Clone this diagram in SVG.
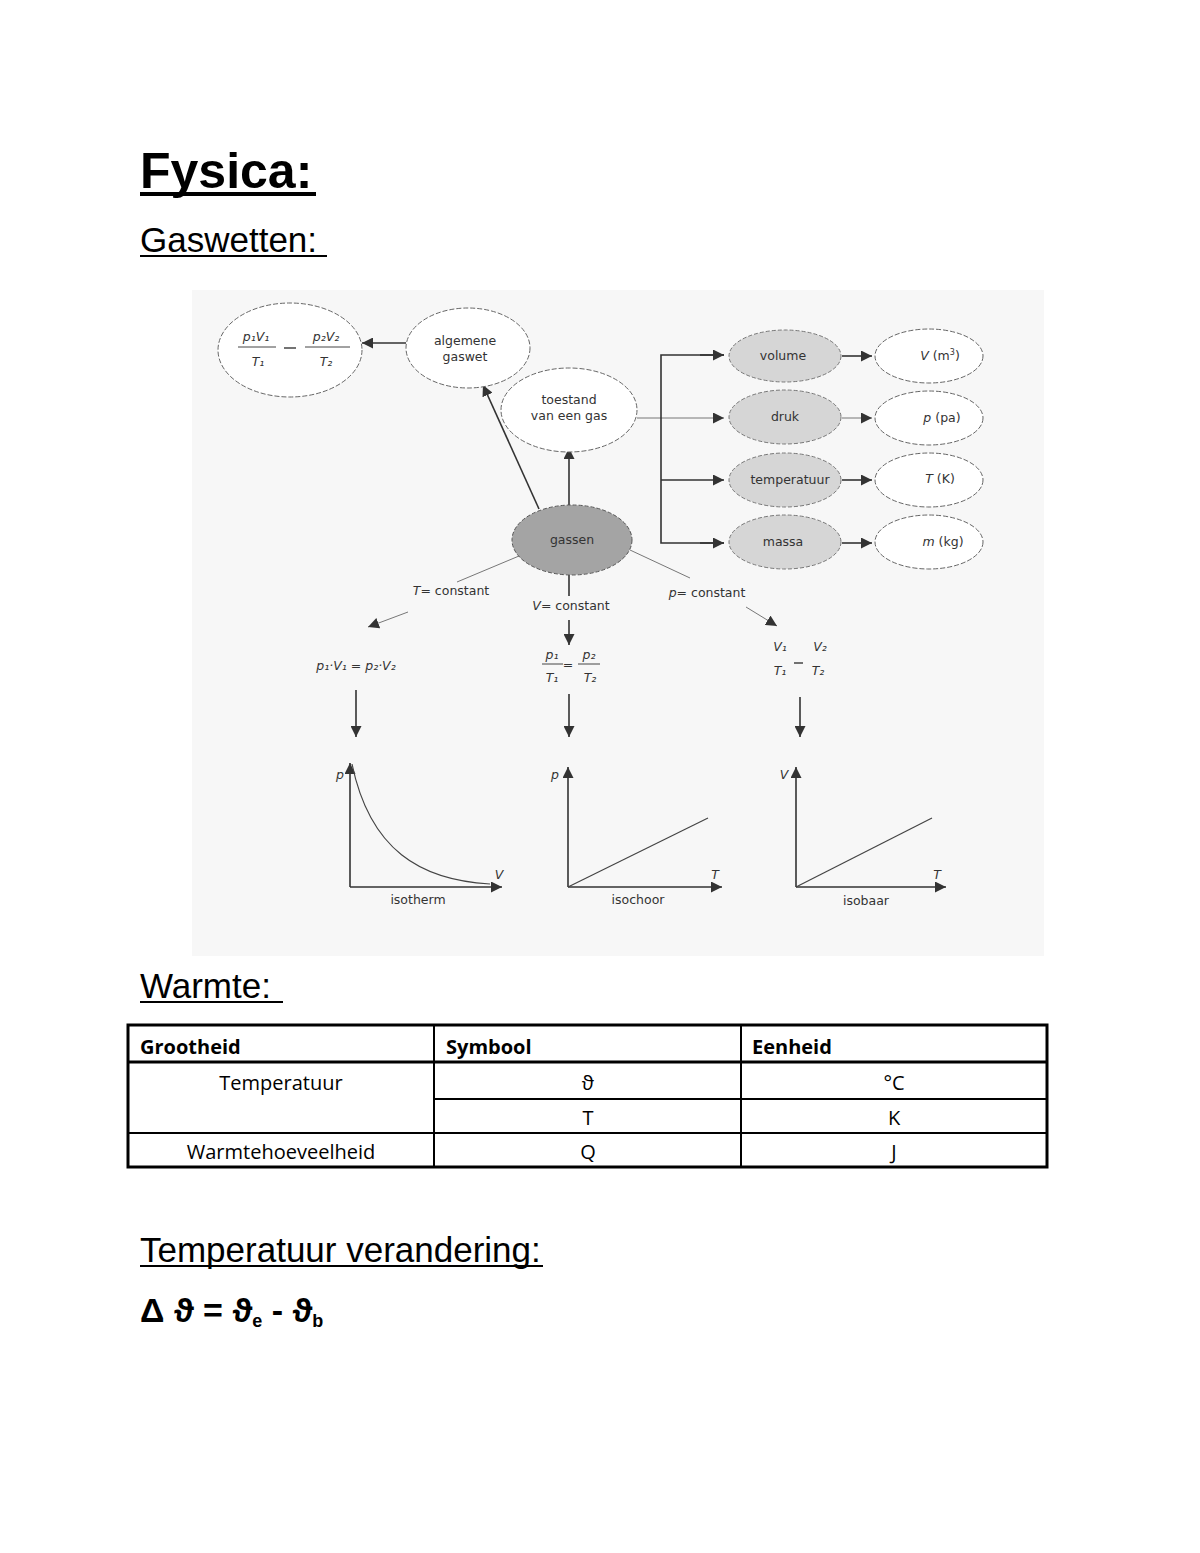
<svg xmlns="http://www.w3.org/2000/svg" width="1200" height="1553" viewBox="0 0 1200 1553">
<style>
.h{font-family:"Liberation Sans",Arial,sans-serif;fill:#000}
.d{font-family:"DejaVu Sans",Verdana,sans-serif;font-size:12.5px;fill:#333}
.di{font-family:"DejaVu Sans",Verdana,sans-serif;font-size:12.5px;fill:#333;font-style:italic}
.ew{fill:#fff;stroke:#666;stroke-width:1;stroke-dasharray:5 2}
.eg{fill:#d6d6d6;stroke:#777;stroke-width:1;stroke-dasharray:4 2}
.ed{fill:#a4a4a4;stroke:#555;stroke-width:1;stroke-dasharray:4 2}
.c{stroke:#333;stroke-width:1.6;fill:none}
.cl{stroke:#777;stroke-width:1;fill:none}
.t{font-family:"Open Sans","Noto Sans",sans-serif;font-size:20px;fill:#000}
.tb{font-family:"Open Sans","Noto Sans",sans-serif;font-size:20px;font-weight:bold;fill:#000}
</style>
<defs>
<marker id="a" viewBox="0 0 10 10" refX="10" refY="5" markerWidth="11" markerHeight="11" markerUnits="userSpaceOnUse" orient="auto"><path d="M0,0L10,5L0,10z" fill="#333"/></marker>
<pattern id="pg" width="4" height="4" patternUnits="userSpaceOnUse"><rect width="4" height="4" fill="#dadada"/><rect width="2" height="2" fill="#c8c8c8"/></pattern>
<pattern id="pd" width="4" height="4" patternUnits="userSpaceOnUse"><rect width="4" height="4" fill="#aaaaaa"/><rect width="2" height="2" fill="#8e8e8e"/></pattern>
</defs>
<rect width="1200" height="1553" fill="#fff"/>
<g id="headings">
<text class="h" x="140" y="188" font-size="50" font-weight="bold">Fysica:</text>
<line x1="140" y1="194" x2="316" y2="194" stroke="#000" stroke-width="4"/>
<text class="h" x="140" y="252" font-size="35">Gaswetten:</text>
<line x1="140" y1="256" x2="327" y2="256" stroke="#000" stroke-width="2"/>
<text class="h" x="140" y="998" font-size="35">Warmte:</text>
<line x1="140" y1="1002" x2="283" y2="1002" stroke="#000" stroke-width="2"/>
<text class="h" x="140" y="1262" font-size="35">Temperatuur verandering:</text>
<line x1="140" y1="1266" x2="543" y2="1266" stroke="#000" stroke-width="2"/>
<text class="h" x="140" y="1322" font-size="34" font-weight="bold">Δ ϑ = ϑ<tspan font-size="18" dy="5">e</tspan><tspan dy="-5"> - ϑ</tspan><tspan font-size="18" dy="5">b</tspan></text>
</g>
<rect id="diagram-bg" x="192" y="290" width="852" height="666" fill="#f7f7f7"/>
<g id="connectors">
<line class="c" x1="406" y1="343" x2="362" y2="343" marker-end="url(#a)"/>
<line class="c" x1="539" y1="509" x2="483" y2="385" marker-end="url(#a)"/>
<line class="c" x1="569" y1="505" x2="569" y2="448" marker-end="url(#a)"/>
<line class="cl" x1="637" y1="418" x2="724" y2="418" marker-end="url(#a)"/>
<path class="c" d="M724,355H661V543H724"/>
<line class="c" x1="700" y1="355" x2="724" y2="355" marker-end="url(#a)"/>
<line class="c" x1="700" y1="543" x2="724" y2="543" marker-end="url(#a)"/>
<line class="c" x1="661" y1="480" x2="724" y2="480" marker-end="url(#a)"/>
<line class="c" x1="842" y1="356" x2="872" y2="356" marker-end="url(#a)"/>
<line class="cl" x1="842" y1="418" x2="872" y2="418" marker-end="url(#a)"/>
<line class="c" x1="842" y1="480" x2="872" y2="480" marker-end="url(#a)"/>
<line class="c" x1="842" y1="543" x2="872" y2="543" marker-end="url(#a)"/>
<line class="cl" x1="519" y1="556" x2="457" y2="582"/>
<line class="cl" x1="408" y1="612" x2="368" y2="627" marker-end="url(#a)"/>
<line class="c" x1="569" y1="575" x2="569" y2="596"/>
<line class="c" x1="569" y1="620" x2="569" y2="645" marker-end="url(#a)"/>
<line class="cl" x1="630" y1="550" x2="690" y2="578"/>
<line class="cl" x1="746" y1="607" x2="777" y2="626" marker-end="url(#a)"/>
<line class="c" x1="356" y1="690" x2="356" y2="737" marker-end="url(#a)"/>
<line class="c" x1="569" y1="694" x2="569" y2="737" marker-end="url(#a)"/>
<line class="c" x1="800" y1="697" x2="800" y2="737" marker-end="url(#a)"/>
</g>
<g id="node-formula">
<ellipse class="ew" cx="290" cy="350" rx="72" ry="47"/>
<text class="di" x="256" y="341" text-anchor="middle">p₁V₁</text>
<line x1="238" y1="347" x2="276" y2="347" stroke="#444" stroke-width="1"/>
<text class="di" x="258" y="366" text-anchor="middle">T₁</text>
<line x1="284" y1="348" x2="296" y2="348" stroke="#444" stroke-width="1.5"/>
<text class="di" x="326" y="341" text-anchor="middle">p₂V₂</text>
<line x1="305" y1="347" x2="350" y2="347" stroke="#444" stroke-width="1"/>
<text class="di" x="326" y="366" text-anchor="middle">T₂</text>
</g>
<g id="node-algemene">
<ellipse class="ew" cx="468" cy="348" rx="62" ry="40"/>
<text class="d" x="465" y="345" text-anchor="middle">algemene</text>
<text class="d" x="465" y="361" text-anchor="middle">gaswet</text>
</g>
<g id="node-toestand">
<ellipse class="ew" cx="569" cy="410" rx="68" ry="42"/>
<text class="d" x="569" y="404" text-anchor="middle">toestand</text>
<text class="d" x="569" y="420" text-anchor="middle">van een gas</text>
</g>
<g id="node-volume"><ellipse class="eg" cx="785" cy="356" rx="56" ry="26" fill="url(#pg)"/><text class="d" x="783" y="360" text-anchor="middle">volume</text></g>
<g id="node-druk"><ellipse class="eg" cx="785" cy="417" rx="56" ry="27" fill="url(#pg)"/><text class="d" x="785" y="421" text-anchor="middle">druk</text></g>
<g id="node-temperatuur"><ellipse class="eg" cx="785" cy="480" rx="56" ry="27" fill="url(#pg)"/><text class="d" x="790" y="484" text-anchor="middle">temperatuur</text></g>
<g id="node-massa"><ellipse class="eg" cx="785" cy="542" rx="56" ry="27" fill="url(#pg)"/><text class="d" x="783" y="546" text-anchor="middle">massa</text></g>
<g id="node-V"><ellipse class="ew" cx="929" cy="356" rx="54" ry="27"/><text class="d" x="940" y="360" text-anchor="middle"><tspan font-style="italic">V</tspan> (m<tspan font-size="8" dy="-5">3</tspan><tspan dy="5">)</tspan></text></g>
<g id="node-p"><ellipse class="ew" cx="929" cy="418" rx="54" ry="27"/><text class="d" x="942" y="422" text-anchor="middle"><tspan font-style="italic">p</tspan> (pa)</text></g>
<g id="node-T"><ellipse class="ew" cx="929" cy="480" rx="54" ry="27"/><text class="d" x="940" y="483" text-anchor="middle"><tspan font-style="italic">T</tspan> (K)</text></g>
<g id="node-m"><ellipse class="ew" cx="929" cy="542" rx="54" ry="27"/><text class="d" x="943" y="546" text-anchor="middle"><tspan font-style="italic">m</tspan> (kg)</text></g>
<g id="node-gassen">
<ellipse class="ed" cx="572" cy="540" rx="60" ry="35" fill="url(#pd)"/>
<text class="d" x="572" y="544" text-anchor="middle">gassen</text>
</g>
<g id="labels">
<text class="d" x="451" y="595" text-anchor="middle"><tspan font-style="italic">T</tspan>= constant</text>
<text class="d" x="571" y="610" text-anchor="middle"><tspan font-style="italic">V</tspan>= constant</text>
<text class="d" x="707" y="597" text-anchor="middle"><tspan font-style="italic">p</tspan>= constant</text>
</g>
<g id="node-boyle">
<text class="di" x="356" y="670" text-anchor="middle">p₁·V₁ = p₂·V₂</text>
</g>
<g id="node-isochoor-formula">
<text class="di" x="552" y="659" text-anchor="middle">p₁</text>
<line x1="542" y1="664" x2="563" y2="664" stroke="#444" stroke-width="1"/>
<text class="di" x="552" y="682" text-anchor="middle">T₁</text>
<text class="d" x="568" y="669" text-anchor="middle">=</text>
<text class="di" x="589" y="659" text-anchor="middle">p₂</text>
<line x1="578" y1="664" x2="600" y2="664" stroke="#444" stroke-width="1"/>
<text class="di" x="590" y="682" text-anchor="middle">T₂</text>
</g>
<g id="node-isobaar-formula">
<text class="di" x="780" y="651" text-anchor="middle">V₁</text>
<text class="di" x="780" y="675" text-anchor="middle">T₁</text>
<line x1="794" y1="663" x2="803" y2="663" stroke="#444" stroke-width="1.5"/>
<text class="di" x="820" y="651" text-anchor="middle">V₂</text>
<text class="di" x="818" y="675" text-anchor="middle">T₂</text>
</g>
<g id="graph-isotherm">
<line class="c" x1="350" y1="887" x2="350" y2="763" marker-end="url(#a)"/>
<line class="c" x1="350" y1="887" x2="502" y2="887" marker-end="url(#a)"/>
<path d="M352,764 C370,850 420,880 490,884" stroke="#444" stroke-width="1.2" fill="none"/>
<text class="di" x="340" y="779" text-anchor="middle">p</text>
<text class="di" x="499" y="879" text-anchor="middle">V</text>
<text class="d" x="418" y="904" text-anchor="middle">isotherm</text>
</g>
<g id="graph-isochoor">
<line class="c" x1="568" y1="887" x2="568" y2="767" marker-end="url(#a)"/>
<line class="c" x1="568" y1="887" x2="722" y2="887" marker-end="url(#a)"/>
<line x1="568" y1="887" x2="708" y2="818" stroke="#444" stroke-width="1.2"/>
<text class="di" x="555" y="779" text-anchor="middle">p</text>
<text class="di" x="715" y="879" text-anchor="middle">T</text>
<text class="d" x="638" y="904" text-anchor="middle">isochoor</text>
</g>
<g id="graph-isobaar">
<line class="c" x1="796" y1="887" x2="796" y2="767" marker-end="url(#a)"/>
<line class="c" x1="796" y1="887" x2="946" y2="887" marker-end="url(#a)"/>
<line x1="796" y1="887" x2="932" y2="818" stroke="#444" stroke-width="1.2"/>
<text class="di" x="784" y="779" text-anchor="middle">V</text>
<text class="di" x="937" y="879" text-anchor="middle">T</text>
<text class="d" x="866" y="905" text-anchor="middle">isobaar</text>
</g>
<g id="table">
<rect x="128" y="1025" width="919" height="142" fill="none" stroke="#000" stroke-width="3"/>
<line x1="128" y1="1062" x2="1047" y2="1062" stroke="#000" stroke-width="3"/>
<line x1="434" y1="1099" x2="1047" y2="1099" stroke="#000" stroke-width="2"/>
<line x1="128" y1="1133" x2="1047" y2="1133" stroke="#000" stroke-width="2"/>
<line x1="434" y1="1025" x2="434" y2="1167" stroke="#000" stroke-width="2"/>
<line x1="741" y1="1025" x2="741" y2="1167" stroke="#000" stroke-width="2"/>
<text class="tb" x="140" y="1054">Grootheid</text>
<text class="tb" x="446" y="1054">Symbool</text>
<text class="tb" x="752" y="1054">Eenheid</text>
<text class="t" x="281" y="1090" text-anchor="middle">Temperatuur</text>
<text class="t" x="588" y="1090" text-anchor="middle">ϑ</text>
<text class="t" x="894" y="1090" text-anchor="middle">°C</text>
<text class="t" x="588" y="1125" text-anchor="middle">T</text>
<text class="t" x="894" y="1125" text-anchor="middle">K</text>
<text class="t" x="281" y="1159" text-anchor="middle">Warmtehoeveelheid</text>
<text class="t" x="588" y="1159" text-anchor="middle">Q</text>
<text class="t" x="894" y="1159" text-anchor="middle">J</text>
</g>
</svg>
